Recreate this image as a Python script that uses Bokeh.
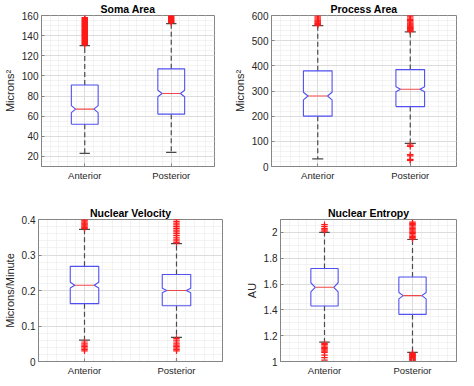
import numpy as np
from bokeh.plotting import figure
from bokeh.layouts import column, row
from bokeh.models import Range1d, FixedTicker, PrintfTickFormatter
from bokeh.embed import file_html
from bokeh.resources import INLINE

# ---------------- data ----------------
groups = ["Anterior", "Posterior"]
positions = [1, 2]

panel_titles = ["Soma Area", "Process Area", "Nuclear Velocity", "Nuclear Entropy"]
panel_ylabels = ["Microns²", "Microns²", "Microns/Minute", "AU"]

# per panel: [Anterior, Posterior]
whisker_lo = [[23, 24], [30, 92], [0.06, 0.068], [1.15, 1.07]]
q1 = [[52, 62], [200, 238], [0.163, 0.157], [1.43, 1.365]]
median = [[67, 82.5], [280, 307], [0.215, 0.2], [1.575, 1.51]]
q3 = [[91, 107], [380, 385], [0.268, 0.245], [1.72, 1.655]]
whisker_hi = [[130, 152], [560, 535], [0.372, 0.332], [2.0, 1.945]]
notch_half = [[3.5, 3.2], [15, 10], [0.008, 0.006], [0.035, 0.025]]

soma_out_ant = [131, 132, 133, 134, 135, 136, 137, 138, 139, 140, 141, 142, 143, 144,
                145, 146, 147, 148, 149, 150, 151, 152, 153, 154, 155, 156, 157, 158]
soma_out_post = [153, 154, 155, 156, 157, 158, 159, 160]
proc_out_ant = [562, 565, 568, 571, 575, 578, 582, 586, 590, 594, 598]
proc_out_post = [538, 540, 543, 546, 549, 552, 555, 558, 562, 566, 570, 575, 580, 585,
                 590, 595, 600, 85, 80, 47, 42, 28, 24]
vel_out_ant = [0.375, 0.378, 0.381, 0.384, 0.387, 0.39, 0.393, 0.396, 0.399,
               0.055, 0.05, 0.046, 0.042, 0.038, 0.034, 0.03]
vel_out_post = [0.335, 0.34, 0.345, 0.35, 0.355, 0.36, 0.365, 0.37, 0.375, 0.38, 0.385,
                0.39, 0.395, 0.4, 0.065, 0.06, 0.055, 0.05, 0.046, 0.042, 0.038, 0.034,
                0.03, 0.0]
ent_out_ant = [2.01, 2.02, 2.03, 2.045, 2.06, 1.14, 1.13, 1.12, 1.11, 1.1, 1.09, 1.08,
               1.07, 1.05, 1.03, 1.01]
ent_out_post = [1.95, 1.96, 1.97, 1.98, 1.99, 2.0, 2.01, 2.02, 2.03, 2.04, 2.05, 2.06,
                2.07, 2.08, 1.065, 1.06, 1.055, 1.05, 1.045, 1.04, 1.035, 1.03, 1.025,
                1.02, 1.015, 1.01, 1.005, 1.0]
outliers = [[soma_out_ant, soma_out_post], [proc_out_ant, proc_out_post],
            [vel_out_ant, vel_out_post], [ent_out_ant, ent_out_post]]

y_limits = [(10, 160), (0, 600), (0, 0.4), (1, 2.1)]
y_ticks = [[20, 40, 60, 80, 100, 120, 140, 160],
           [0, 100, 200, 300, 400, 500, 600],
           [0, 0.1, 0.2, 0.3, 0.4],
           [1, 1.2, 1.4, 1.6, 1.8, 2]]
y_minor_step = [5, 20, 0.02, 0.05]

# ---------------- layout / style ----------------
FONT = "Liberation Sans"
BOX_COLOR = "#5050f2"
MED_COLOR = "#f04848"
WHISK_COLOR = "#4a4a4a"
OUT_COLOR = "#ff1a1a"
FRAME_COLOR = "#858585"
BOX_HALF = 0.155
NOTCH_RATIO = 0.68
CAP_HALF = 0.06

sizes = [  # width, height, border_left, border_right, border_top, border_bottom
    (230, 192, 30, 16, 14, 26),
    (228, 192, 30, 2, 14, 26),
    (242, 186, 30, 20, 27, 14),
    (216, 186, 30, 2, 27, 14),
]


def make_panel(i):
    w, h, bl, br, bt, bb = sizes[i]
    lo, hi = y_limits[i]
    p = figure(width=w, height=h, output_backend="svg", toolbar_location=None,
               x_range=Range1d(0.5, 2.5), y_range=Range1d(lo, hi),
               min_border_left=bl, min_border_right=br, min_border_top=bt,
               min_border_bottom=bb, title=panel_titles[i])
    p.title.text_font = FONT
    p.title.text_font_size = "10.5px"
    p.title.text_font_style = "bold"
    p.title.text_color = "#000000"
    p.title.align = "center"
    p.title.standoff = 1
    p.outline_line_color = FRAME_COLOR
    p.outline_line_width = 1
    p.background_fill_color = "white"

    xminor = list(np.round(np.arange(0.5, 2.5001, 0.1), 3))
    p.xaxis.ticker = FixedTicker(ticks=positions, minor_ticks=xminor)
    p.xaxis.major_label_overrides = {pos: g for pos, g in zip(positions, groups)}
    step = y_minor_step[i]
    yminor = list(np.round(np.arange(lo, hi + step * 0.001, step), 5))
    p.yaxis.ticker = FixedTicker(ticks=y_ticks[i], minor_ticks=yminor)
    p.yaxis.formatter = PrintfTickFormatter(format="%g")
    p.yaxis.axis_label = panel_ylabels[i]

    for ax in (p.xaxis[0], p.yaxis[0]):
        ax.axis_line_color = FRAME_COLOR
        ax.major_tick_line_color = FRAME_COLOR
        ax.major_tick_in = 3
        ax.major_tick_out = 0
        ax.minor_tick_in = 0
        ax.minor_tick_out = 0
        ax.major_label_text_font = FONT
        ax.major_label_text_font_size = "10px"
        ax.major_label_text_color = "#262626"
        ax.major_label_standoff = 3
        ax.axis_label_text_font = FONT
        ax.axis_label_text_font_size = "11px"
        ax.axis_label_text_font_style = "normal"
        ax.axis_label_text_color = "#262626"
        ax.axis_label_standoff = 3
    p.xaxis.major_label_text_font_size = "9.5px"

    for g in (p.xgrid[0], p.ygrid[0]):
        g.grid_line_color = "#dcdcdc"
        g.grid_line_width = 1
        g.minor_grid_line_color = "#e6e6e6"
        g.minor_grid_line_dash = "1 1"
        g.minor_grid_line_width = 1

    for j, c in enumerate(positions):
        ql, m, qh = q1[i][j], median[i][j], q3[i][j]
        nh = notch_half[i][j]
        wn = BOX_HALF * NOTCH_RATIO
        xs = [c - BOX_HALF, c - BOX_HALF, c - wn, c - BOX_HALF, c - BOX_HALF,
              c + BOX_HALF, c + BOX_HALF, c + wn, c + BOX_HALF, c + BOX_HALF, c - BOX_HALF]
        ys = [ql, m - nh, m, m + nh, qh, qh, m + nh, m, m - nh, ql, ql]
        # whiskers
        p.segment(x0=[c, c], y0=[qh, ql], x1=[c, c], y1=[whisker_hi[i][j], whisker_lo[i][j]],
                  line_color=WHISK_COLOR, line_width=1.2, line_dash="5 3")
        p.segment(x0=[c - CAP_HALF, c - CAP_HALF], x1=[c + CAP_HALF, c + CAP_HALF],
                  y0=[whisker_hi[i][j], whisker_lo[i][j]],
                  y1=[whisker_hi[i][j], whisker_lo[i][j]],
                  line_color=WHISK_COLOR, line_width=1.2)
        p.line(xs, ys, line_color=BOX_COLOR, line_width=1.1)
        p.segment(x0=[c - wn], x1=[c + wn], y0=[m], y1=[m], line_color=MED_COLOR,
                  line_width=1.1)
        out = outliers[i][j]
        p.scatter([c] * len(out), out, marker="cross", size=6.5, line_color=OUT_COLOR,
                  line_width=1.2)
    return p


panels = [make_panel(i) for i in range(4)]
layout = column(row(panels[0], panels[1]), row(panels[2], panels[3]))

open("out.html", "w").write(file_html(layout, INLINE))
